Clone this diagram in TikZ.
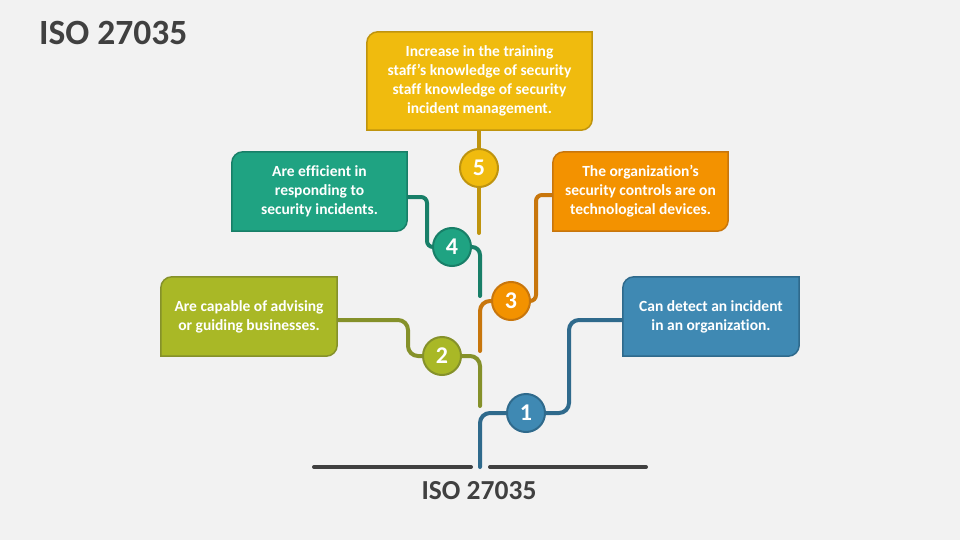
\documentclass[tikz,border=0pt]{standalone}
\usepackage{fontspec}
\setmainfont{Carlito}[Ligatures=NoCommon]
\usetikzlibrary{backgrounds,calc}
\definecolor{bgc}{HTML}{F2F2F2}
\definecolor{darkg}{HTML}{404040}
\definecolor{bluef}{HTML}{3F89B3}\definecolor{blued}{HTML}{2F6A8C}
\definecolor{olivef}{HTML}{A9B826}\definecolor{olived}{HTML}{85912A}
\definecolor{orangef}{HTML}{F39200}\definecolor{oranged}{HTML}{C8760C}
\definecolor{tealf}{HTML}{1FA382}\definecolor{teald}{HTML}{187F68}
\definecolor{goldf}{HTML}{F0BB0E}\definecolor{goldd}{HTML}{BF940E}
\newcommand\tagbox[3]{%
 \filldraw[fill=#2, draw=#3, line width=1.5pt]
 ([yshift=-11pt]#1.north west) .. controls ([yshift=-5pt]#1.north west) and ([xshift=5pt]#1.north west) .. ([xshift=11pt]#1.north west)
 -- (#1.north east)
 -- ([yshift=11pt]#1.south east) .. controls ([yshift=5pt]#1.south east) and ([xshift=-5pt]#1.south east) .. ([xshift=-11pt]#1.south east)
 -- (#1.south west) -- cycle;}
\tikzset{
 boxtxt/.style={inner sep=0pt, align=center, text=white, font=\fontsize{15.5}{19}\selectfont\bfseries},
 numc/.style={circle, minimum size=38pt, inner sep=0pt, line width=2pt, text=white, font=\fontsize{24}{24}\selectfont\bfseries},
 conn/.style={line width=4pt, rounded corners=10pt},
}
\begin{document}
\begin{tikzpicture}[x=1pt,y=-1pt]
\useasboundingbox (0,0) rectangle (960,540);
% boxes (text nodes)
\node[boxtxt, minimum width=176pt, minimum height=79pt] (b1) at (711,316.5) {Can detect an incident\\in an organization.};
\node[boxtxt, minimum width=176pt, minimum height=79pt] (b2) at (249,316.5) {Are capable of advising\\or guiding businesses.};
\node[boxtxt, minimum width=175pt, minimum height=79pt] (b3) at (640.5,191.5) {The organization’s\\security controls are on\\technological devices.};
\node[boxtxt, minimum width=175pt, minimum height=79pt] (b4) at (319.5,191.5) {Are efficient in\\responding to\\security incidents.};
\node[boxtxt, minimum width=225pt, minimum height=98pt] (b5) at (479.5,81) {Increase in the training\\staff’s knowledge of security\\staff knowledge of security\\incident management.};
\begin{scope}[on background layer]
 \fill[bgc] (0,0) rectangle (960,540);
 \tagbox{b1}{bluef}{blued}
 \tagbox{b2}{olivef}{olived}
 \tagbox{b3}{orangef}{oranged}
 \tagbox{b4}{tealf}{teald}
 \tagbox{b5}{goldf}{goldd}
\end{scope}
% circles
\node[numc, fill=bluef, draw=blued] (c1) at (526,413) {1};
\node[numc, fill=olivef, draw=olived] (c2) at (442,356) {2};
\node[numc, fill=orangef, draw=oranged] (c3) at (511,301) {3};
\node[numc, fill=tealf, draw=teald] (c4) at (452,247) {4};
\node[numc, fill=goldf, draw=goldd] (c5) at (479,168) {5};
% trunk start coordinates
\coordinate (t1) at (480,467);
\coordinate (t2) at (480,406);
\coordinate (t3) at (480,351);
\coordinate (t4) at (480,296);
\coordinate (t5) at (479,233);
% connectors
\draw[conn, blued, line cap=round] (t1) |- (c1.west);
\draw[conn, blued] (c1.east) -| (569,320) -- (b1.west |- 0,320);
\draw[conn, olived, line cap=round] (t2) |- (c2.east);
\draw[conn, olived] (c2.west) -| (408,320) -- (b2.east |- 0,320);
\draw[conn, oranged, line cap=round] (t3) |- (c3.west);
\draw[conn, oranged, rounded corners=6pt] (c3.east) -| (536,195) -- (b3.west |- 0,195);
\draw[conn, teald, line cap=round, rounded corners=8pt] (t4) |- (c4.east);
\draw[conn, teald, rounded corners=6pt] (c4.west) -| (427,197) -- (b4.east |- 0,197);
\draw[conn, goldd] (b5.south -| c5) -- (c5.north);
\draw[conn, goldd, line cap=round] (c5.south) -- (t5);
% base lines
\coordinate (l1) at (314,467);\coordinate (l2) at (471,467);
\coordinate (r1) at (490,467);\coordinate (r2) at (646,467);
\draw[line width=4pt, darkg, line cap=round] (l1) -- (l2);
\draw[line width=4pt, darkg, line cap=round] (r1) -- (r2);
% titles
\node[anchor=base west, inner sep=0pt, text=darkg, font=\fontsize{35.5}{36}\selectfont\bfseries] (title) at (39,45) {ISO 27035};
\node[anchor=base, inner sep=0pt, text=darkg, font=\fontsize{27.5}{28}\selectfont\bfseries] (label) at (479,499) {ISO 27035};
\end{tikzpicture}
\end{document}
